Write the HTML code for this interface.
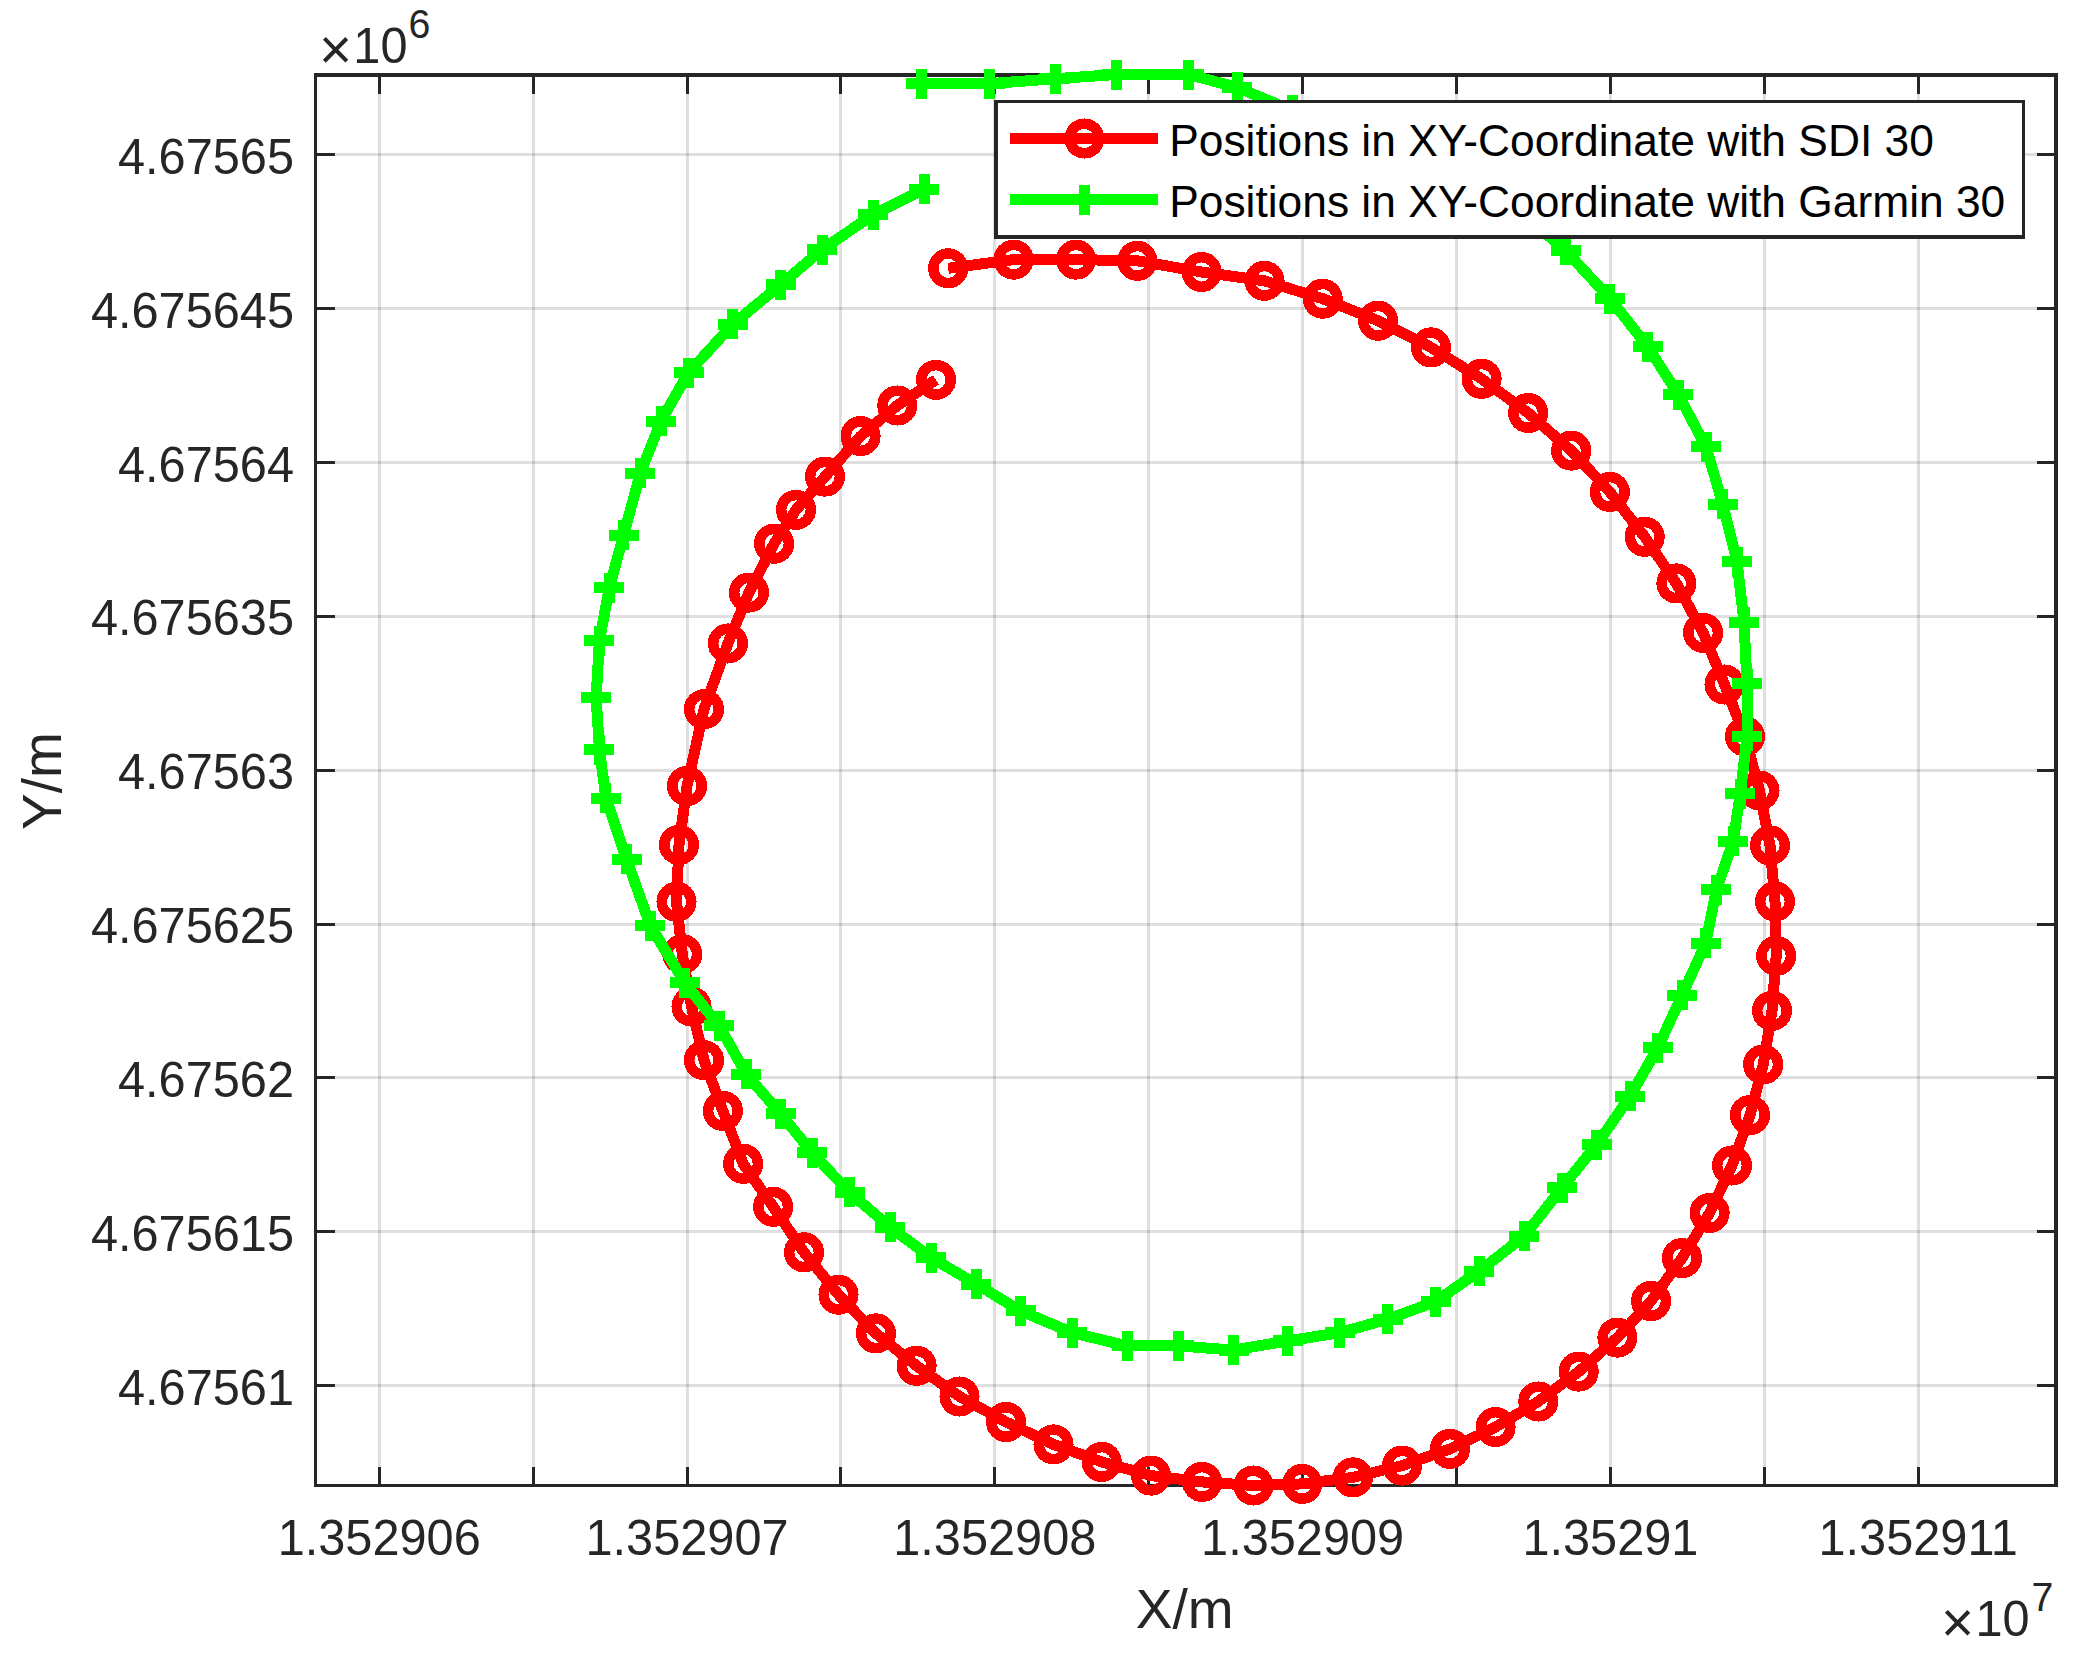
<!DOCTYPE html>
<html lang="en"><head><meta charset="utf-8"><title>Positions in XY-Coordinate</title>
<style>html,body{margin:0;padding:0;background:#fff}svg{display:block}text{font-family:"Liberation Sans",sans-serif}</style>
</head><body>
<svg width="2084" height="1670" viewBox="0 0 2084 1670">
<rect width="2084" height="1670" fill="#fff"/>
<g stroke="#262626" stroke-opacity="0.15" stroke-width="3" shape-rendering="crispEdges">
<line x1="379.2" y1="75.0" x2="379.2" y2="1485.5"/>
<line x1="533.1" y1="75.0" x2="533.1" y2="1485.5"/>
<line x1="687.0" y1="75.0" x2="687.0" y2="1485.5"/>
<line x1="840.9" y1="75.0" x2="840.9" y2="1485.5"/>
<line x1="994.8" y1="75.0" x2="994.8" y2="1485.5"/>
<line x1="1148.7" y1="75.0" x2="1148.7" y2="1485.5"/>
<line x1="1302.6" y1="75.0" x2="1302.6" y2="1485.5"/>
<line x1="1456.5" y1="75.0" x2="1456.5" y2="1485.5"/>
<line x1="1610.4" y1="75.0" x2="1610.4" y2="1485.5"/>
<line x1="1764.3" y1="75.0" x2="1764.3" y2="1485.5"/>
<line x1="1918.2" y1="75.0" x2="1918.2" y2="1485.5"/>
<line x1="315.5" y1="154.8" x2="2056.0" y2="154.8"/>
<line x1="315.5" y1="308.6" x2="2056.0" y2="308.6"/>
<line x1="315.5" y1="462.5" x2="2056.0" y2="462.5"/>
<line x1="315.5" y1="616.3" x2="2056.0" y2="616.3"/>
<line x1="315.5" y1="770.2" x2="2056.0" y2="770.2"/>
<line x1="315.5" y1="924.0" x2="2056.0" y2="924.0"/>
<line x1="315.5" y1="1077.8" x2="2056.0" y2="1077.8"/>
<line x1="315.5" y1="1231.7" x2="2056.0" y2="1231.7"/>
<line x1="315.5" y1="1385.5" x2="2056.0" y2="1385.5"/>
</g>
<g stroke="#262626" stroke-width="3" fill="none" shape-rendering="crispEdges">
<line x1="379.2" y1="1485.5" x2="379.2" y2="1466.5"/>
<line x1="379.2" y1="75.0" x2="379.2" y2="94.0"/>
<line x1="533.1" y1="1485.5" x2="533.1" y2="1466.5"/>
<line x1="533.1" y1="75.0" x2="533.1" y2="94.0"/>
<line x1="687.0" y1="1485.5" x2="687.0" y2="1466.5"/>
<line x1="687.0" y1="75.0" x2="687.0" y2="94.0"/>
<line x1="840.9" y1="1485.5" x2="840.9" y2="1466.5"/>
<line x1="840.9" y1="75.0" x2="840.9" y2="94.0"/>
<line x1="994.8" y1="1485.5" x2="994.8" y2="1466.5"/>
<line x1="994.8" y1="75.0" x2="994.8" y2="94.0"/>
<line x1="1148.7" y1="1485.5" x2="1148.7" y2="1466.5"/>
<line x1="1148.7" y1="75.0" x2="1148.7" y2="94.0"/>
<line x1="1302.6" y1="1485.5" x2="1302.6" y2="1466.5"/>
<line x1="1302.6" y1="75.0" x2="1302.6" y2="94.0"/>
<line x1="1456.5" y1="1485.5" x2="1456.5" y2="1466.5"/>
<line x1="1456.5" y1="75.0" x2="1456.5" y2="94.0"/>
<line x1="1610.4" y1="1485.5" x2="1610.4" y2="1466.5"/>
<line x1="1610.4" y1="75.0" x2="1610.4" y2="94.0"/>
<line x1="1764.3" y1="1485.5" x2="1764.3" y2="1466.5"/>
<line x1="1764.3" y1="75.0" x2="1764.3" y2="94.0"/>
<line x1="1918.2" y1="1485.5" x2="1918.2" y2="1466.5"/>
<line x1="1918.2" y1="75.0" x2="1918.2" y2="94.0"/>
<line x1="315.5" y1="154.8" x2="334.5" y2="154.8"/>
<line x1="2056.0" y1="154.8" x2="2037.0" y2="154.8"/>
<line x1="315.5" y1="308.6" x2="334.5" y2="308.6"/>
<line x1="2056.0" y1="308.6" x2="2037.0" y2="308.6"/>
<line x1="315.5" y1="462.5" x2="334.5" y2="462.5"/>
<line x1="2056.0" y1="462.5" x2="2037.0" y2="462.5"/>
<line x1="315.5" y1="616.3" x2="334.5" y2="616.3"/>
<line x1="2056.0" y1="616.3" x2="2037.0" y2="616.3"/>
<line x1="315.5" y1="770.2" x2="334.5" y2="770.2"/>
<line x1="2056.0" y1="770.2" x2="2037.0" y2="770.2"/>
<line x1="315.5" y1="924.0" x2="334.5" y2="924.0"/>
<line x1="2056.0" y1="924.0" x2="2037.0" y2="924.0"/>
<line x1="315.5" y1="1077.8" x2="334.5" y2="1077.8"/>
<line x1="2056.0" y1="1077.8" x2="2037.0" y2="1077.8"/>
<line x1="315.5" y1="1231.7" x2="334.5" y2="1231.7"/>
<line x1="2056.0" y1="1231.7" x2="2037.0" y2="1231.7"/>
<line x1="315.5" y1="1385.5" x2="334.5" y2="1385.5"/>
<line x1="2056.0" y1="1385.5" x2="2037.0" y2="1385.5"/>
</g>
<g fill="#262626" shape-rendering="crispEdges">
<rect x="314" y="73" width="3" height="1414"/>
<rect x="314" y="1484" width="1744" height="3"/>
<rect x="314" y="73" width="1744" height="4"/>
<rect x="2054" y="73" width="4" height="1414"/>
</g>
<g fill="none" stroke-width="11" stroke-linejoin="round" shape-rendering="crispEdges">
<polyline stroke="#ff0000" points="936.0,379.8 897.3,405.5 860.6,436.1 825.0,476.6 796.0,509.8 774.1,543.7 748.9,592.6 727.9,643.5 704.0,709.2 687.0,786.0 679.0,844.9 676.5,901.8 682.3,954.2 691.5,1006.6 704.0,1060.2 722.9,1110.9 743.2,1163.8 773.2,1206.8 804.0,1252.3 838.5,1294.7 875.9,1333.4 916.6,1365.8 959.5,1396.5 1006.1,1422.0 1053.5,1444.4 1101.7,1461.9 1151.1,1475.6 1202.1,1481.9 1253.4,1485.5 1302.3,1483.9 1352.9,1477.4 1402.1,1465.6 1450.0,1448.9 1495.6,1427.0 1538.3,1401.5 1578.7,1371.6 1617.4,1337.6 1651.1,1301.0 1682.0,1258.1 1709.6,1212.9 1732.0,1165.5 1750.0,1115.1 1763.2,1064.5 1772.0,1010.8 1776.2,955.9 1775.0,901.5 1770.0,845.4 1759.5,790.5 1745.0,736.4 1724.5,684.5 1703.1,632.8 1676.4,583.4 1644.7,536.8 1609.8,491.9 1571.2,450.6 1528.2,413.0 1481.6,378.8 1431.0,347.4 1378.1,320.7 1322.7,298.7 1264.5,280.8 1201.7,272.0 1137.3,260.8 1076.0,259.6 1013.6,259.6 948.2,268.3"/>
<g stroke="#ff0000">
<circle cx="936.0" cy="379.8" r="14.8" stroke-width="10.5"/>
<circle cx="897.3" cy="405.5" r="14.8" stroke-width="10.5"/>
<circle cx="860.6" cy="436.1" r="14.8" stroke-width="10.5"/>
<circle cx="825.0" cy="476.6" r="14.8" stroke-width="10.5"/>
<circle cx="796.0" cy="509.8" r="14.8" stroke-width="10.5"/>
<circle cx="774.1" cy="543.7" r="14.8" stroke-width="10.5"/>
<circle cx="748.9" cy="592.6" r="14.8" stroke-width="10.5"/>
<circle cx="727.9" cy="643.5" r="14.8" stroke-width="10.5"/>
<circle cx="704.0" cy="709.2" r="14.8" stroke-width="10.5"/>
<circle cx="687.0" cy="786.0" r="14.8" stroke-width="10.5"/>
<circle cx="679.0" cy="844.9" r="14.8" stroke-width="10.5"/>
<circle cx="676.5" cy="901.8" r="14.8" stroke-width="10.5"/>
<circle cx="682.3" cy="954.2" r="14.8" stroke-width="10.5"/>
<circle cx="691.5" cy="1006.6" r="14.8" stroke-width="10.5"/>
<circle cx="704.0" cy="1060.2" r="14.8" stroke-width="10.5"/>
<circle cx="722.9" cy="1110.9" r="14.8" stroke-width="10.5"/>
<circle cx="743.2" cy="1163.8" r="14.8" stroke-width="10.5"/>
<circle cx="773.2" cy="1206.8" r="14.8" stroke-width="10.5"/>
<circle cx="804.0" cy="1252.3" r="14.8" stroke-width="10.5"/>
<circle cx="838.5" cy="1294.7" r="14.8" stroke-width="10.5"/>
<circle cx="875.9" cy="1333.4" r="14.8" stroke-width="10.5"/>
<circle cx="916.6" cy="1365.8" r="14.8" stroke-width="10.5"/>
<circle cx="959.5" cy="1396.5" r="14.8" stroke-width="10.5"/>
<circle cx="1006.1" cy="1422.0" r="14.8" stroke-width="10.5"/>
<circle cx="1053.5" cy="1444.4" r="14.8" stroke-width="10.5"/>
<circle cx="1101.7" cy="1461.9" r="14.8" stroke-width="10.5"/>
<circle cx="1151.1" cy="1475.6" r="14.8" stroke-width="10.5"/>
<circle cx="1202.1" cy="1481.9" r="14.8" stroke-width="10.5"/>
<circle cx="1253.4" cy="1485.5" r="14.8" stroke-width="10.5"/>
<circle cx="1302.3" cy="1483.9" r="14.8" stroke-width="10.5"/>
<circle cx="1352.9" cy="1477.4" r="14.8" stroke-width="10.5"/>
<circle cx="1402.1" cy="1465.6" r="14.8" stroke-width="10.5"/>
<circle cx="1450.0" cy="1448.9" r="14.8" stroke-width="10.5"/>
<circle cx="1495.6" cy="1427.0" r="14.8" stroke-width="10.5"/>
<circle cx="1538.3" cy="1401.5" r="14.8" stroke-width="10.5"/>
<circle cx="1578.7" cy="1371.6" r="14.8" stroke-width="10.5"/>
<circle cx="1617.4" cy="1337.6" r="14.8" stroke-width="10.5"/>
<circle cx="1651.1" cy="1301.0" r="14.8" stroke-width="10.5"/>
<circle cx="1682.0" cy="1258.1" r="14.8" stroke-width="10.5"/>
<circle cx="1709.6" cy="1212.9" r="14.8" stroke-width="10.5"/>
<circle cx="1732.0" cy="1165.5" r="14.8" stroke-width="10.5"/>
<circle cx="1750.0" cy="1115.1" r="14.8" stroke-width="10.5"/>
<circle cx="1763.2" cy="1064.5" r="14.8" stroke-width="10.5"/>
<circle cx="1772.0" cy="1010.8" r="14.8" stroke-width="10.5"/>
<circle cx="1776.2" cy="955.9" r="14.8" stroke-width="10.5"/>
<circle cx="1775.0" cy="901.5" r="14.8" stroke-width="10.5"/>
<circle cx="1770.0" cy="845.4" r="14.8" stroke-width="10.5"/>
<circle cx="1759.5" cy="790.5" r="14.8" stroke-width="10.5"/>
<circle cx="1745.0" cy="736.4" r="14.8" stroke-width="10.5"/>
<circle cx="1724.5" cy="684.5" r="14.8" stroke-width="10.5"/>
<circle cx="1703.1" cy="632.8" r="14.8" stroke-width="10.5"/>
<circle cx="1676.4" cy="583.4" r="14.8" stroke-width="10.5"/>
<circle cx="1644.7" cy="536.8" r="14.8" stroke-width="10.5"/>
<circle cx="1609.8" cy="491.9" r="14.8" stroke-width="10.5"/>
<circle cx="1571.2" cy="450.6" r="14.8" stroke-width="10.5"/>
<circle cx="1528.2" cy="413.0" r="14.8" stroke-width="10.5"/>
<circle cx="1481.6" cy="378.8" r="14.8" stroke-width="10.5"/>
<circle cx="1431.0" cy="347.4" r="14.8" stroke-width="10.5"/>
<circle cx="1378.1" cy="320.7" r="14.8" stroke-width="10.5"/>
<circle cx="1322.7" cy="298.7" r="14.8" stroke-width="10.5"/>
<circle cx="1264.5" cy="280.8" r="14.8" stroke-width="10.5"/>
<circle cx="1201.7" cy="272.0" r="14.8" stroke-width="10.5"/>
<circle cx="1137.3" cy="260.8" r="14.8" stroke-width="10.5"/>
<circle cx="1076.0" cy="259.6" r="14.8" stroke-width="10.5"/>
<circle cx="1013.6" cy="259.6" r="14.8" stroke-width="10.5"/>
<circle cx="948.2" cy="268.3" r="14.8" stroke-width="10.5"/>
</g>
<polyline stroke="#00ff00" points="924.3,189.0 873.1,214.7 822.0,249.6 780.8,284.5 732.7,324.4 688.5,372.6 661.0,421.0 640.3,473.4 623.6,535.0 609.4,587.7 599.4,640.6 596.2,697.4 599.4,749.6 605.9,798.0 626.6,859.4 650.3,925.5 684.8,982.9 719.2,1025.8 746.4,1074.4 780.8,1113.9 812.0,1152.5 849.5,1192.4 890.4,1227.4 931.3,1257.8 976.2,1284.0 1020.6,1310.9 1072.3,1332.7 1127.1,1345.9 1178.5,1345.9 1233.6,1350.1 1287.8,1340.9 1339.7,1332.7 1387.6,1319.2 1435.5,1301.7 1479.4,1271.0 1524.3,1236.1 1562.0,1187.7 1596.6,1144.8 1630.2,1096.2 1657.9,1047.5 1682.1,995.1 1705.8,943.0 1716.3,889.8 1733.3,841.2 1740.3,793.5 1747.0,736.4 1747.0,683.7 1744.0,622.1 1737.0,561.5 1722.8,504.3 1706.0,446.9 1678.3,394.5 1647.7,346.6 1609.9,298.5 1565.5,250.4 1520.0,211.5 1468.0,181.0 1410.0,156.0 1350.0,133.0 1292.0,110.3 1237.1,87.4 1188.5,74.5 1116.5,74.5 1055.0,78.7 989.6,83.7 921.3,83.7"/>
</g>
<g fill="#00ff00" shape-rendering="crispEdges">
<path d="M909.3 183.5h30v11h-30zM918.8 174.0h11v30h-11z"/>
<path d="M858.1 209.2h30v11h-30zM867.6 199.7h11v30h-11z"/>
<path d="M807.0 244.1h30v11h-30zM816.5 234.6h11v30h-11z"/>
<path d="M765.8 279.0h30v11h-30zM775.3 269.5h11v30h-11z"/>
<path d="M717.7 318.9h30v11h-30zM727.2 309.4h11v30h-11z"/>
<path d="M673.5 367.1h30v11h-30zM683.0 357.6h11v30h-11z"/>
<path d="M646.0 415.5h30v11h-30zM655.5 406.0h11v30h-11z"/>
<path d="M625.3 467.9h30v11h-30zM634.8 458.4h11v30h-11z"/>
<path d="M608.6 529.5h30v11h-30zM618.1 520.0h11v30h-11z"/>
<path d="M594.4 582.2h30v11h-30zM603.9 572.7h11v30h-11z"/>
<path d="M584.4 635.1h30v11h-30zM593.9 625.6h11v30h-11z"/>
<path d="M581.2 691.9h30v11h-30zM590.7 682.4h11v30h-11z"/>
<path d="M584.4 744.1h30v11h-30zM593.9 734.6h11v30h-11z"/>
<path d="M590.9 792.5h30v11h-30zM600.4 783.0h11v30h-11z"/>
<path d="M611.6 853.9h30v11h-30zM621.1 844.4h11v30h-11z"/>
<path d="M635.3 920.0h30v11h-30zM644.8 910.5h11v30h-11z"/>
<path d="M669.8 977.4h30v11h-30zM679.3 967.9h11v30h-11z"/>
<path d="M704.2 1020.3h30v11h-30zM713.7 1010.8h11v30h-11z"/>
<path d="M731.4 1068.9h30v11h-30zM740.9 1059.4h11v30h-11z"/>
<path d="M765.8 1108.4h30v11h-30zM775.3 1098.9h11v30h-11z"/>
<path d="M797.0 1147.0h30v11h-30zM806.5 1137.5h11v30h-11z"/>
<path d="M834.5 1186.9h30v11h-30zM844.0 1177.4h11v30h-11z"/>
<path d="M875.4 1221.9h30v11h-30zM884.9 1212.4h11v30h-11z"/>
<path d="M916.3 1252.3h30v11h-30zM925.8 1242.8h11v30h-11z"/>
<path d="M961.2 1278.5h30v11h-30zM970.7 1269.0h11v30h-11z"/>
<path d="M1005.6 1305.4h30v11h-30zM1015.1 1295.9h11v30h-11z"/>
<path d="M1057.3 1327.2h30v11h-30zM1066.8 1317.7h11v30h-11z"/>
<path d="M1112.1 1340.4h30v11h-30zM1121.6 1330.9h11v30h-11z"/>
<path d="M1163.5 1340.4h30v11h-30zM1173.0 1330.9h11v30h-11z"/>
<path d="M1218.6 1344.6h30v11h-30zM1228.1 1335.1h11v30h-11z"/>
<path d="M1272.8 1335.4h30v11h-30zM1282.3 1325.9h11v30h-11z"/>
<path d="M1324.7 1327.2h30v11h-30zM1334.2 1317.7h11v30h-11z"/>
<path d="M1372.6 1313.7h30v11h-30zM1382.1 1304.2h11v30h-11z"/>
<path d="M1420.5 1296.2h30v11h-30zM1430.0 1286.7h11v30h-11z"/>
<path d="M1464.4 1265.5h30v11h-30zM1473.9 1256.0h11v30h-11z"/>
<path d="M1509.3 1230.6h30v11h-30zM1518.8 1221.1h11v30h-11z"/>
<path d="M1547.0 1182.2h30v11h-30zM1556.5 1172.7h11v30h-11z"/>
<path d="M1581.6 1139.3h30v11h-30zM1591.1 1129.8h11v30h-11z"/>
<path d="M1615.2 1090.7h30v11h-30zM1624.7 1081.2h11v30h-11z"/>
<path d="M1642.9 1042.0h30v11h-30zM1652.4 1032.5h11v30h-11z"/>
<path d="M1667.1 989.6h30v11h-30zM1676.6 980.1h11v30h-11z"/>
<path d="M1690.8 937.5h30v11h-30zM1700.3 928.0h11v30h-11z"/>
<path d="M1701.3 884.3h30v11h-30zM1710.8 874.8h11v30h-11z"/>
<path d="M1718.3 835.7h30v11h-30zM1727.8 826.2h11v30h-11z"/>
<path d="M1725.3 788.0h30v11h-30zM1734.8 778.5h11v30h-11z"/>
<path d="M1732.0 730.9h30v11h-30zM1741.5 721.4h11v30h-11z"/>
<path d="M1732.0 678.2h30v11h-30zM1741.5 668.7h11v30h-11z"/>
<path d="M1729.0 616.6h30v11h-30zM1738.5 607.1h11v30h-11z"/>
<path d="M1722.0 556.0h30v11h-30zM1731.5 546.5h11v30h-11z"/>
<path d="M1707.8 498.8h30v11h-30zM1717.3 489.3h11v30h-11z"/>
<path d="M1691.0 441.4h30v11h-30zM1700.5 431.9h11v30h-11z"/>
<path d="M1663.3 389.0h30v11h-30zM1672.8 379.5h11v30h-11z"/>
<path d="M1632.7 341.1h30v11h-30zM1642.2 331.6h11v30h-11z"/>
<path d="M1594.9 293.0h30v11h-30zM1604.4 283.5h11v30h-11z"/>
<path d="M1550.5 244.9h30v11h-30zM1560.0 235.4h11v30h-11z"/>
<path d="M1505.0 206.0h30v11h-30zM1514.5 196.5h11v30h-11z"/>
<path d="M1453.0 175.5h30v11h-30zM1462.5 166.0h11v30h-11z"/>
<path d="M1395.0 150.5h30v11h-30zM1404.5 141.0h11v30h-11z"/>
<path d="M1335.0 127.5h30v11h-30zM1344.5 118.0h11v30h-11z"/>
<path d="M1277.0 104.8h30v11h-30zM1286.5 95.3h11v30h-11z"/>
<path d="M1222.1 81.9h30v11h-30zM1231.6 72.4h11v30h-11z"/>
<path d="M1173.5 69.0h30v11h-30zM1183.0 59.5h11v30h-11z"/>
<path d="M1101.5 69.0h30v11h-30zM1111.0 59.5h11v30h-11z"/>
<path d="M1040.0 73.2h30v11h-30zM1049.5 63.7h11v30h-11z"/>
<path d="M974.6 78.2h30v11h-30zM984.1 68.7h11v30h-11z"/>
<path d="M906.3 78.2h30v11h-30zM915.8 68.7h11v30h-11z"/>
</g>
<g shape-rendering="crispEdges"><rect x="994" y="100" width="1031" height="139" fill="#262626"/><rect x="998" y="103" width="1024" height="132" fill="#fff"/></g>
<g shape-rendering="crispEdges">
<line x1="1010" y1="138.5" x2="1158" y2="138.5" stroke="#ff0000" stroke-width="11"/>
<circle cx="1084.4" cy="138.5" r="14.8" fill="none" stroke="#ff0000" stroke-width="10.5"/>
<line x1="1010" y1="199.5" x2="1158" y2="199.5" stroke="#00ff00" stroke-width="11"/>
<path fill="#00ff00" d="M1069.4 194.0h30v11h-30zM1078.9 184.5h11v30h-11z"/>
</g>
<g font-size="44.33" fill="#000">
<text x="1169.2" y="155.6">Positions in XY-Coordinate with SDI 30</text>
<text x="1169.2" y="216.7">Positions in XY-Coordinate with Garmin 30</text>
</g>
<g font-size="48.7" fill="#262626">
<text transform="translate(379.2 1554.5) scale(1 1.045)" text-anchor="middle">1.352906</text>
<text transform="translate(687.0 1554.5) scale(1 1.045)" text-anchor="middle">1.352907</text>
<text transform="translate(994.8 1554.5) scale(1 1.045)" text-anchor="middle">1.352908</text>
<text transform="translate(1302.6 1554.5) scale(1 1.045)" text-anchor="middle">1.352909</text>
<text transform="translate(1610.4 1554.5) scale(1 1.045)" text-anchor="middle">1.35291</text>
<text transform="translate(1918.2 1554.5) scale(1 1.045)" text-anchor="middle">1.352911</text>
<text transform="translate(294 173.9) scale(1 1.045)" text-anchor="end">4.67565</text>
<text transform="translate(294 327.7) scale(1 1.045)" text-anchor="end">4.675645</text>
<text transform="translate(294 481.6) scale(1 1.045)" text-anchor="end">4.67564</text>
<text transform="translate(294 635.4) scale(1 1.045)" text-anchor="end">4.675635</text>
<text transform="translate(294 789.3) scale(1 1.045)" text-anchor="end">4.67563</text>
<text transform="translate(294 943.1) scale(1 1.045)" text-anchor="end">4.675625</text>
<text transform="translate(294 1096.9) scale(1 1.045)" text-anchor="end">4.67562</text>
<text transform="translate(294 1250.8) scale(1 1.045)" text-anchor="end">4.675615</text>
<text transform="translate(294 1404.6) scale(1 1.045)" text-anchor="end">4.67561</text>
<text x="319" y="69.2" font-size="56.7">×</text><text transform="translate(353.3 63) scale(1 1.045)">10<tspan font-size="39.4" dx="1" dy="-24">6</tspan></text>
<text x="1941" y="1642.2" font-size="56.7">×</text><text transform="translate(1975.5 1636) scale(1 1.045)">10<tspan font-size="39.4" dx="1.8" dy="-24">7</tspan></text>
</g>
<g font-size="55" fill="#262626">
<text x="1184.6" y="1627.7" text-anchor="middle">X/m</text>
<text transform="translate(61 781) rotate(-90)" text-anchor="middle">Y/m</text>
</g>
</svg>
</body></html>
